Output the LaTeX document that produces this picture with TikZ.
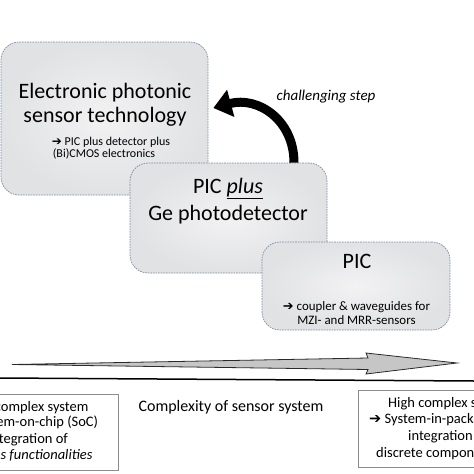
\documentclass[tikz,border=0pt]{standalone}
\usepackage{fontspec}
\setmainfont{Carlito}
\newfontfamily\dejavu{DejaVu Sans}
\usetikzlibrary{arrows.meta}
\definecolor{bordc}{HTML}{7A8A9E}
\definecolor{boxin}{HTML}{F2F2F3}
\definecolor{boxout}{HTML}{E1E2E4}
\definecolor{arrfill}{HTML}{C6C6C6}
\definecolor{arrline}{HTML}{2A2A2A}
\definecolor{plainbord}{HTML}{8C8C8C}
\newcommand\harr{{\dejavu\symbol{"2794}}}
\tikzset{
  rbox/.style={draw=bordc, line width=0.7pt, dash pattern=on 1.6pt off 1pt,
    rounded corners=18pt, inner color=boxin, outer color=boxout, inner sep=0pt},
  pbox/.style={draw=plainbord, line width=0.7pt, fill=white, inner sep=0pt},
  big/.style={anchor=base, inner sep=0pt, font=\fontsize{22}{26}\selectfont},
  small/.style={anchor=base, inner sep=0pt, font=\fontsize{12}{14}\selectfont},
  smallb/.style={anchor=base, inner sep=0pt, font=\fontsize{12.9}{15}\selectfont},
  bot/.style={anchor=base, inner sep=0pt, font=\fontsize{14.5}{16}\selectfont},
  botw/.style={anchor=base west, inner sep=0pt, font=\fontsize{14.5}{16}\selectfont},
  curvarr/.style={line width=9pt, -{Triangle[length=18pt,width=27pt]}},
}
\begin{document}
\begin{tikzpicture}[x=1pt,y=-1pt]
\useasboundingbox (0,0) rectangle (474,474);
\clip (0,0) rectangle (474,474);
% top boxes
\node[rbox, minimum width=207pt, minimum height=153pt] (box1) at (104.5,118.5) {};
\node[big] (t1a) at (105,98) {Electronic photonic};
\node[big] (t1b) at (105,122) {sensor technology};
\node[small] (t1c) at (111,145) {\harr\ PIC plus detector plus};
\node[small] (t1d) at (104,157) {(Bi)CMOS electronics};

\node[rbox, minimum width=197pt, minimum height=110pt] (box2) at (228.5,218) {};
\node[big] (t2a) at (228,193) {PIC \underline{\textit{plus}}};
\node[big] (t2b) at (228,220) {Ge photodetector};

\node[rbox, minimum width=188pt, minimum height=88pt] (box3) at (356,286) {};
\node[big] (t3a) at (357,268) {PIC};
\node[smallb] (t3b) at (356.5,310) {\harr\ coupler \& waveguides for};
\node[smallb] (t3c) at (356.5,324.5) {MZI- and MRR-sensors};

% curved arrow
\draw[curvarr] ([xshift=65.5pt]box2.north) .. controls (294,120) and (258,96) .. ([shift={(5,-10.5)}]box1.east);
\node[anchor=base, inner sep=0pt, font=\fontsize{15}{18}\selectfont\itshape] (chal) at (326,100) {challenging step};

% big gray arrow
\draw[fill=arrfill, draw=arrline, line width=0.8pt]
  (12,364.5) -- (368,358) -- (366,353) -- (457,363) -- (366,374) -- (368,369.5) -- cycle;
\draw[line width=1.5pt] (0,378) -- (474,381);

% bottom boxes
\node[pbox, minimum width=182pt, minimum height=76pt] (lbox) at (27,432) {};
\node[bot] (l1) at (28,411) {Low complex system};
\node[bot] (l2) at (28,426) {\harr\ System-on-chip (SoC)};
\node[bot] (l3) at (28,443) {integration of};
\node[bot] (l4) at (28,459) {\textit{various functionalities}};

\node[font=\fontsize{16}{19}\selectfont, anchor=base, inner sep=0pt] (cx) at (231,411) {Complexity of sensor system};

\node[pbox, minimum width=180pt, minimum height=77pt] (rbx) at (448,428.5) {};
\node[botw] (r1) at (388,407) {High complex system};
\node[botw] (r2) at (369,423) {\harr\ System-in-package (SiP)};
\node[botw] (r3) at (408,440) {integration of};
\node[botw] (r4) at (376,457) {discrete components};
\end{tikzpicture}
\end{document}
